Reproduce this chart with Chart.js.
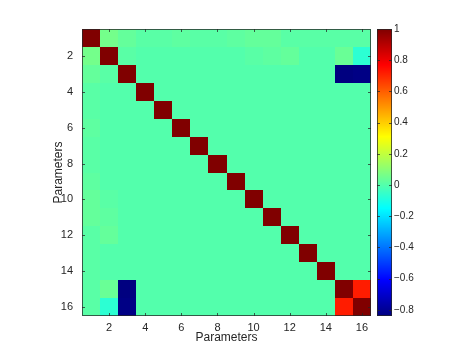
<!DOCTYPE html>
<html>
<head>
<meta charset="utf-8">
<script src="https://cdn.jsdelivr.net/npm/chart.js@4.4.1/dist/chart.umd.min.js"></script>
<style>
  body { margin: 0; background: #fff; }
  #wrap { width: 474px; height: 355px; position: relative; }
</style>
</head>
<body>
<div id="wrap"><canvas id="corrChart"></canvas></div>
<script>
// parameter indices and tick labels
const params = [1, 2, 3, 4, 5, 6, 7, 8, 9, 10, 11, 12, 13, 14, 15, 16];
const axisTicks = [2, 4, 6, 8, 10, 12, 14, 16];
const cbTicks = [-0.8, -0.6, -0.4, -0.2, 0, 0.2, 0.4, 0.6, 0.8, 1];
const cbMin = -0.84;
const cbMax = 1;

// correlation matrix (row = y parameter, col = x parameter)
const corrMatrix = [
  [1.00, 0.06, 0.03, 0.01, 0.01, 0.02, 0.01, 0.01, 0.02, 0.03, 0.03, 0.01, 0.01, 0.01, 0.01, 0.01],
  [0.06, 1.00, 0.01, 0.00, 0.00, 0.00, 0.00, 0.00, 0.00, 0.01, 0.02, 0.03, 0.00, 0.00, 0.04, -0.07],
  [0.03, 0.01, 1.00, 0.00, 0.00, 0.00, 0.00, 0.00, 0.00, 0.00, 0.00, 0.00, 0.00, 0.00, -0.84, -0.83],
  [0.01, 0.00, 0.00, 1.00, 0.00, 0.00, 0.00, 0.00, 0.00, 0.00, 0.00, 0.00, 0.00, 0.00, 0.00, 0.00],
  [0.01, 0.00, 0.00, 0.00, 1.00, 0.00, 0.00, 0.00, 0.00, 0.00, 0.00, 0.00, 0.00, 0.00, 0.00, 0.00],
  [0.02, 0.00, 0.00, 0.00, 0.00, 1.00, 0.00, 0.00, 0.00, 0.00, 0.00, 0.00, 0.00, 0.00, 0.00, 0.00],
  [0.01, 0.00, 0.00, 0.00, 0.00, 0.00, 1.00, 0.00, 0.00, 0.00, 0.00, 0.00, 0.00, 0.00, 0.00, 0.00],
  [0.01, 0.00, 0.00, 0.00, 0.00, 0.00, 0.00, 1.00, 0.00, 0.00, 0.00, 0.00, 0.00, 0.00, 0.00, 0.00],
  [0.02, 0.00, 0.00, 0.00, 0.00, 0.00, 0.00, 0.00, 1.00, 0.00, 0.00, 0.00, 0.00, 0.00, 0.00, 0.00],
  [0.03, 0.01, 0.00, 0.00, 0.00, 0.00, 0.00, 0.00, 0.00, 1.00, 0.00, 0.00, 0.00, 0.00, 0.00, 0.00],
  [0.03, 0.02, 0.00, 0.00, 0.00, 0.00, 0.00, 0.00, 0.00, 0.00, 1.00, 0.00, 0.00, 0.00, 0.00, 0.00],
  [0.01, 0.03, 0.00, 0.00, 0.00, 0.00, 0.00, 0.00, 0.00, 0.00, 0.00, 1.00, 0.00, 0.00, 0.00, 0.00],
  [0.01, 0.00, 0.00, 0.00, 0.00, 0.00, 0.00, 0.00, 0.00, 0.00, 0.00, 0.00, 1.00, 0.00, 0.00, 0.00],
  [0.01, 0.00, 0.00, 0.00, 0.00, 0.00, 0.00, 0.00, 0.00, 0.00, 0.00, 0.00, 0.00, 1.00, 0.00, 0.00],
  [0.01, 0.04, -0.84, 0.00, 0.00, 0.00, 0.00, 0.00, 0.00, 0.00, 0.00, 0.00, 0.00, 0.00, 1.00, 0.72],
  [0.01, -0.07, -0.83, 0.00, 0.00, 0.00, 0.00, 0.00, 0.00, 0.00, 0.00, 0.00, 0.00, 0.00, 0.72, 1.00]
];

const textColor = '#262626';
const fontFamily = '"Liberation Sans", Arial, Helvetica, sans-serif';

// MATLAB-style jet colormap
function jet(v) {
  let t = (v - cbMin) / (cbMax - cbMin);
  t = Math.min(1, Math.max(0, t));
  const f = c => Math.round(255 * Math.min(1, Math.max(0, 1.5 - Math.abs(4 * t - c))));
  return `rgb(${f(3)},${f(2)},${f(1)})`;
}

const cells = [];
params.forEach((py, i) => {
  params.forEach((px, j) => {
    cells.push({ x: px, y: py, v: corrMatrix[i][j] });
  });
});

const heatmapPlugin = {
  id: 'heatmap',
  beforeDatasetsDraw(chart) {
    const { ctx, scales: { x, y } } = chart;
    ctx.save();
    chart.data.datasets[0].data.forEach(p => {
      const l = Math.round(x.getPixelForValue(p.x - 0.5));
      const r = Math.round(x.getPixelForValue(p.x + 0.5));
      const t = Math.round(y.getPixelForValue(p.y - 0.5));
      const b = Math.round(y.getPixelForValue(p.y + 0.5));
      ctx.fillStyle = jet(p.v);
      ctx.fillRect(l, Math.min(t, b), r - l, Math.abs(b - t));
    });
    ctx.restore();
  },
  afterDatasetsDraw(chart) {
    const { ctx, chartArea: a, scales: { x, y, cb } } = chart;
    ctx.save();
    ctx.strokeStyle = 'rgba(38,38,38,0.75)';
    ctx.lineWidth = 1;
    // axes box
    ctx.strokeRect(a.left + 0.5, a.top + 0.5, a.right - a.left - 1, a.bottom - a.top - 1);
    // inward ticks
    ctx.beginPath();
    axisTicks.forEach(v => {
      const px = Math.round(x.getPixelForValue(v)) + 0.5;
      ctx.moveTo(px, a.bottom); ctx.lineTo(px, a.bottom - 3);
      ctx.moveTo(px, a.top); ctx.lineTo(px, a.top + 3);
      const py = Math.round(y.getPixelForValue(v)) + 0.5;
      ctx.moveTo(a.left, py); ctx.lineTo(a.left + 3, py);
      ctx.moveTo(a.right, py); ctx.lineTo(a.right - 3, py);
    });
    ctx.stroke();

    // colorbar
    const cl = cb.left + 6, cr = cb.left + 21;
    for (let py = Math.round(cb.top); py < Math.round(cb.bottom); py++) {
      ctx.fillStyle = jet(cb.getValueForPixel(py + 0.5));
      ctx.fillRect(cl, py, cr - cl, 1);
    }
    ctx.strokeRect(cl + 0.5, Math.round(cb.top) + 0.5, cr - cl - 1, Math.round(cb.bottom - cb.top) - 1);
    ctx.beginPath();
    cbTicks.forEach(v => {
      const py = Math.round(cb.getPixelForValue(v)) + 0.5;
      ctx.moveTo(cr, py); ctx.lineTo(cr - 3, py);
      ctx.moveTo(cl, py); ctx.lineTo(cl + 3, py);
    });
    ctx.stroke();
    ctx.restore();
  }
};

const setTicks = list => scale => { scale.ticks = list.map(v => ({ value: v })); };

const ctx = document.getElementById('corrChart').getContext('2d');
const corrChart = new Chart(ctx, {
  type: 'scatter',
  data: {
    datasets: [{
      label: 'Correlation',
      data: cells,
      pointRadius: 0,
      pointHoverRadius: 0
    }]
  },
  options: {
    responsive: true,
    maintainAspectRatio: false,
    animation: false,
    layout: { padding: { top: 26, left: 0, right: 0, bottom: 0 } },
    plugins: { legend: { display: false }, tooltip: { enabled: false } },
    scales: {
      x: {
        type: 'linear',
        position: 'bottom',
        min: 0.5,
        max: 16.5,
        afterBuildTicks: setTicks(axisTicks),
        afterFit: s => { s.height = 39; },
        grid: { display: false, drawTicks: false },
        border: { display: false },
        ticks: { autoSkip: false, padding: 5, color: textColor, font: { family: fontFamily, size: 11 } },
        title: { display: true, text: 'Parameters', color: textColor, padding: { top: 10, bottom: 10 },
                 font: { family: fontFamily, size: 12 } }
      },
      y: {
        type: 'linear',
        position: 'left',
        reverse: true,
        min: 0.5,
        max: 16.5,
        afterBuildTicks: setTicks(axisTicks),
        afterFit: s => { s.width = 82; },
        grid: { display: false, drawTicks: false },
        border: { display: false },
        ticks: { autoSkip: false, padding: 9, color: textColor, font: { family: fontFamily, size: 11 } },
        title: { display: true, text: 'Parameters', color: textColor, padding: { top: 51, bottom: 0 },
                 font: { family: fontFamily, size: 12 } }
      },
      cb: {
        type: 'linear',
        position: 'right',
        min: cbMin,
        max: cbMax,
        afterBuildTicks: setTicks(cbTicks),
        afterFit: s => { s.width = 103; },
        grid: { display: false, drawTicks: false },
        border: { display: false },
        ticks: {
          autoSkip: false,
          padding: 23,
          color: textColor,
          font: { family: fontFamily, size: 10 },
          callback: v => (Math.round(v * 10) / 10).toString().replace('-', '\u2212')
        }
      }
    }
  },
  plugins: [heatmapPlugin]
});
</script>
</body>
</html>
